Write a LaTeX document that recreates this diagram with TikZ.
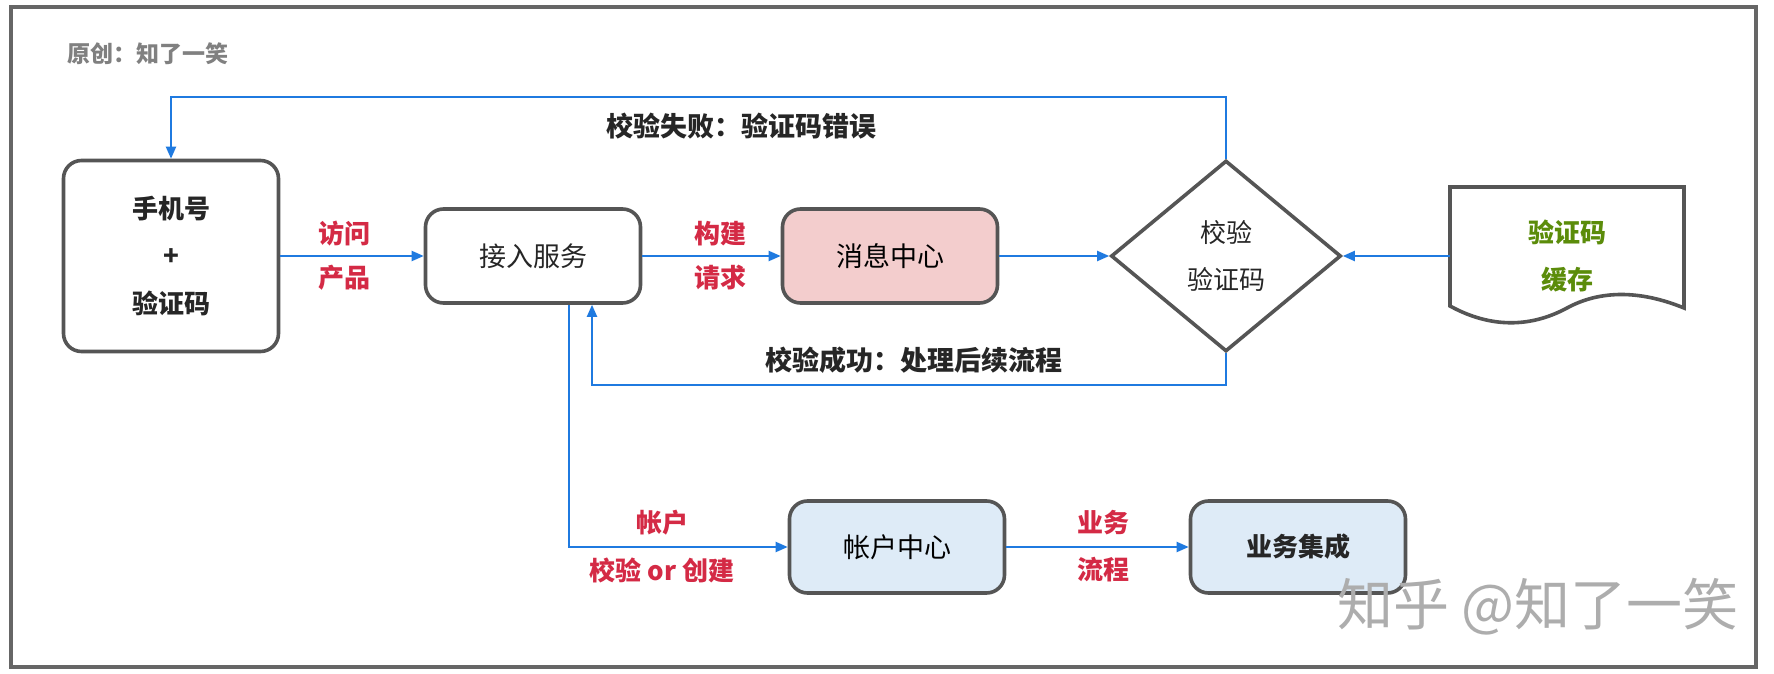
\documentclass[tikz,border=0pt]{standalone}
\usepackage{fontspec}
\newfontfamily\cjk{Noto Sans CJK SC}
\usetikzlibrary{shapes.geometric,arrows.meta}
\definecolor{bdr}{HTML}{555555}
\definecolor{framec}{HTML}{666666}
\definecolor{arrc}{HTML}{1F7AE0}
\definecolor{redc}{HTML}{D42A45}
\definecolor{greenc}{HTML}{5B8C0A}
\definecolor{pinkc}{HTML}{F3CDCD}
\definecolor{bluec}{HTML}{DEEBF7}
\tikzset{
  boxnode/.style={draw=bdr, line width=1.8pt, rounded corners=9pt, minimum width=107.5pt, minimum height=47pt, align=center, font=\cjk\fontsize{13.5}{23.5}\selectfont, text=black!85},
  arr/.style={draw=arrc, line width=1pt, -{Triangle[length=6pt,width=5pt]}},
  redlbl/.style={text=redc, font=\cjk\bfseries\fontsize{13}{22}\selectfont},
  blklbl/.style={text=black!85, font=\cjk\bfseries\fontsize{13.5}{22}\selectfont},
}
\begin{document}
\begin{tikzpicture}[x=0.5pt,y=-0.5pt]
\useasboundingbox (0,0) rectangle (1774,674);
\fill[white] (0,0) rectangle (1774,674);
\draw[framec, line width=2pt] (11,7) rectangle (1756,667);
\node[text=black!50, font=\cjk\bfseries\fontsize{11.5}{14}\selectfont, anchor=west] (orig) at (60,54) {原创：知了一笑};

\node[boxnode, minimum height=95.5pt, font=\cjk\bfseries\fontsize{13}{23.7}\selectfont] (A) at (171,256) {手机号\\+\\验证码};
\node[boxnode] (B) at (533,256) {接入服务};
\node[boxnode, fill=pinkc, text=black] (C) at (890,256) {消息中心};
\node[draw=bdr, line width=1.8pt, shape=diamond, inner sep=0pt, minimum width=115pt, minimum height=95.5pt, align=center, font=\cjk\fontsize{13}{23.5}\selectfont, text=black!85] (dia) at (1226,256) {校验\\验证码};
\node[minimum width=117pt, minimum height=60pt, inner sep=0pt, align=center, text=greenc, font=\cjk\bfseries\fontsize{13}{23.5}\selectfont] (doc) at (1567,256) {验证码\\缓存};
\draw[bdr, line width=1.8pt] (1450,306) -- (1450,187) -- (1684,187) -- (1684,308)
  .. controls (1640,290) and (1600,290) .. (1567,308)
  .. controls (1530,328) and (1490,328) .. cycle;
\node[boxnode, fill=bluec, minimum height=46pt, text=black] (D) at (897,547) {帐户中心};
\node[boxnode, fill=bluec, minimum height=46pt, font=\cjk\bfseries\fontsize{13}{23.5}\selectfont] (E) at (1298,547) {业务集成};

\coordinate (topy) at (0,97);
\coordinate (boty) at (0,385);

\draw[arr] (A) -- (B);
\draw[arr] (B) -- (C);
\draw[arr] (C) -- (dia);
\draw[arr] (doc.west) -- (dia.east);
\draw[arr] (dia.north) -- (dia.north |- topy) -| (A.north);
\draw[arr] (dia.south) -- (dia.south |- boty) -| ([shift={(59,0)}]B.south);
\draw[arr] ([shift={(36,0)}]B.south) |- (D.west);
\draw[arr] (D) -- (E);

\node[redlbl] (l1a) at (344,234) {访问};
\node[redlbl] (l1b) at (344,278) {产品};
\node[redlbl] (l2a) at (720,234) {构建};
\node[redlbl] (l2b) at (720,278) {请求};
\node[redlbl] (l3a) at (662,523) {帐户};
\node[redlbl] (l3b) at (662,570) {校验 or 创建};
\node[redlbl] (l4a) at (1103,523) {业务};
\node[redlbl] (l4b) at (1103,570) {流程};
\node[blklbl] (fail) at (741,126) {校验失败：验证码错误};
\node[blklbl] (ok) at (914,360) {校验成功：处理后续流程};

\node[text=black!32, font=\cjk\fontsize{28}{30}\selectfont, anchor=west] (wm) at (1330,607) {知乎 @知了一笑};
\end{tikzpicture}
\end{document}
